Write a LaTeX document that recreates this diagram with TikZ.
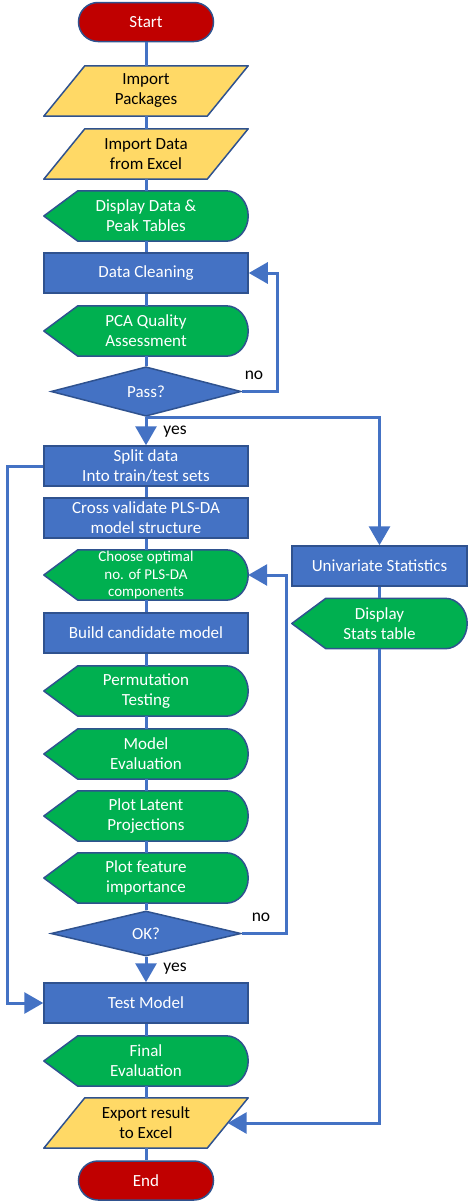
\documentclass[tikz,border=0pt]{standalone}
\usepackage{fontspec}
\setmainfont{Carlito}
\usetikzlibrary{arrows.meta,shapes.geometric,calc,backgrounds}
\definecolor{cblue}{HTML}{4472C4}
\definecolor{cborder}{HTML}{2F528F}
\definecolor{cgreen}{HTML}{00B050}
\definecolor{cyellow}{HTML}{FFD966}
\definecolor{cred}{HTML}{C00000}
\begin{document}
\begin{tikzpicture}[x=1pt,y=-1pt,
  txt/.style={font=\fontsize{17}{20}\selectfont, align=center, inner sep=0pt},
  procbox/.style={txt, draw=cborder, line width=1.5pt, fill=cblue, text=white, minimum width=204pt, minimum height=40pt},
  termbox/.style={txt, draw=cborder, line width=1.5pt, fill=cred, text=white, minimum width=135pt, minimum height=39pt, rounded corners=19.5pt},
  decbox/.style={txt, diamond, draw=cborder, line width=1.5pt, fill=cblue, text=white, minimum width=190pt, minimum height=45pt},
  iobox/.style={txt, text=black, minimum width=204pt, minimum height=50pt},
  dispbox/.style={txt, text=white, minimum width=204pt, minimum height=50pt},
  para/.style={draw=cborder, line width=1.5pt, fill=cyellow, line join=round},
  dispshape/.style={draw=cborder, line width=1.5pt, fill=cgreen, line join=round},
  conn/.style={draw=cblue, line width=3pt},
  arr/.style={conn, -{Triangle[length=19pt,width=21pt]}},
  lbl/.style={font=\fontsize{17.5}{20}\selectfont, text=black, inner sep=0pt}]
\useasboundingbox (0,0) rectangle (474,1202);

% main column
\node[termbox] (start) at (146,22) {Start};
\node[iobox] (pkg) at (146,91) {Import\\Packages};
\node[iobox] (data) at (146,154) {Import Data\\from Excel};
\node[dispbox] (disp) at (146,216) {Display Data \&\\Peak Tables};
\node[procbox] (clean) at (146,273) {Data Cleaning};
\node[dispbox] (pca) at (146,331) {PCA Quality\\Assessment};
\node[decbox] (pass) at (146,391.5) {Pass?};
\node[procbox] (split) at (146,466) {Split data\\Into train/test sets};
\node[procbox] (cv) at (146,518) {Cross validate PLS-DA\\model structure};
\node[dispbox, font=\fontsize{15}{17.7}\selectfont] (choose) at (146,575) {Choose optimal\\no. of PLS-DA\\components};
\node[procbox] (build) at (146,633) {Build candidate model};
\node[dispbox] (perm) at (146,691) {Permutation\\Testing};
\node[dispbox] (eval) at (146,754) {Model\\Evaluation};
\node[dispbox] (latent) at (146,816) {Plot Latent\\Projections};
\node[dispbox] (feat) at (146,878) {Plot feature\\importance};
\node[decbox] (ok) at (146,933.5) {OK?};
\node[procbox] (test) at (146,1003) {Test Model};
\node[dispbox] (final) at (146,1061) {Final\\Evaluation};
\node[iobox] (exp) at (146,1123) {Export result\\to Excel};
\node[termbox] (end) at (146,1180.5) {End};

% right column
\node[procbox, minimum width=175pt] (uni) at (379.5,566) {Univariate Statistics};
\node[dispbox, minimum width=175pt] (stats) at (379.5,623.5) {Display\\Stats table};

% custom shapes
\begin{pgfonlayer}{background}
\foreach \n in {pkg,data,exp}
  \draw[para] (\n.south west) -- ($(\n.north west)+(41pt,0pt)$) -- (\n.north east)
     -- ($(\n.south east)+(-41pt,0pt)$) -- cycle;
\foreach \n in {disp,pca,choose,perm,eval,latent,feat,final,stats}
  \draw[dispshape] (\n.west) -- ($(\n.north west)+(34pt,0pt)$) -- ($(\n.north east)+(-22pt,0pt)$)
     .. controls ($(\n.north east)+(-9.8pt,0pt)$) and ($(\n.east)+(0pt,13.8pt)$) .. (\n.east)
     .. controls ($(\n.east)+(0pt,-13.8pt)$) and ($(\n.south east)+(-9.8pt,0pt)$) .. ($(\n.south east)+(-22pt,0pt)$)
     -- ($(\n.south west)+(34pt,0pt)$) -- cycle;
\end{pgfonlayer}

\coordinate (br) at (146,417);
\coordinate (expin) at ($(exp.east)+(-20.5pt,0pt)$);

% plain connectors
\draw[conn] (start) -- (pkg);
\draw[conn] (pkg) -- (data);
\draw[conn] (data) -- (disp);
\draw[conn] (disp) -- (clean);
\draw[conn] (clean) -- (pca);
\draw[conn] (pca) -- (pass);
\draw[conn] (split) -- (cv);
\draw[conn] (cv) -- (choose);
\draw[conn] (choose) -- (build);
\draw[conn] (build) -- (perm);
\draw[conn] (perm) -- (eval);
\draw[conn] (eval) -- (latent);
\draw[conn] (latent) -- (feat);
\draw[conn] (feat) -- (ok);
\draw[conn] (test) -- (final);
\draw[conn] (final) -- (exp);
\draw[conn] (exp) -- (end);
\draw[conn] (uni) -- (stats);

% arrows
\draw[arr] (pass.south) -- (split.north);
\draw[arr] (ok.south) -- (test.north);
\draw[arr] (pass.east) -- ++(36,0) |- (clean.east);
\draw[arr] (ok.east) -- ++(45,0) |- (choose.east);
\draw[arr] (split.west) -- ++(-36,0) |- (test.west);
\draw[arr] (br) -| (uni.north);
\draw[arr] (stats.south) |- (expin);

% labels
\node[lbl] (no1) at (254,375) {no};
\node[lbl] (no2) at (261,917) {no};
\node[lbl] (yes1) at (175,432) {yes};
\node[lbl] (yes2) at (175,969) {yes};
\end{tikzpicture}
\end{document}
